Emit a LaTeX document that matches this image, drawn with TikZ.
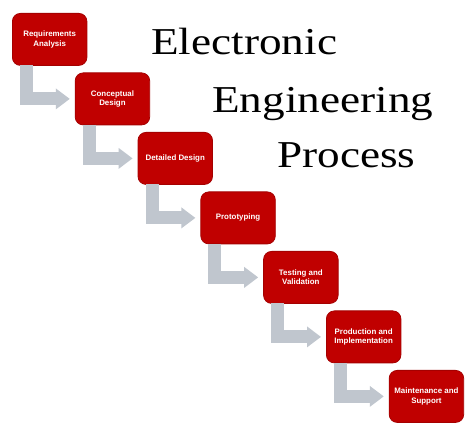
\documentclass[tikz,border=0pt]{standalone}
\usepackage{fontspec}
\setmainfont{Liberation Serif}
\newfontfamily\boxfont{Liberation Sans}
\usetikzlibrary{arrows.meta}
\definecolor{boxred}{RGB}{192,0,0}
\definecolor{boxedge}{RGB}{165,0,0}
\definecolor{arrgray}{RGB}{192,198,206}
\tikzset{
  stage/.style={draw=boxedge, line width=0.8pt, fill=boxred, rounded corners=8pt,
    minimum width=74.5pt, minimum height=52pt, anchor=north west, inner sep=2pt,
    text=white, align=center,
    font=\boxfont\bfseries\fontsize{7.9pt}{9.4pt}\selectfont},
  flow/.style={draw=arrgray, line width=13pt, line join=miter,
    -{Triangle[length=14pt,width=20pt]}},
  title/.style={anchor=base west, inner sep=0pt, xscale=1.19,
    font=\fontsize{38pt}{38pt}\selectfont}
}
\begin{document}
\begin{tikzpicture}[x=1pt,y=-1pt]
\useasboundingbox (0,0) rectangle (474,435);
\fill[white] (0,0) rectangle (474,435);
\node[stage] (s1) at (12,13) {Requirements\\Analysis};
\node[stage] (s2) at (74.8,72.5) {Conceptual\\Design};
\node[stage] (s3) at (137.6,132) {Detailed Design};
\node[stage] (s4) at (200.4,191.5) {Prototyping};
\node[stage] (s5) at (263.2,251) {Testing and\\Validation};
\node[stage] (s6) at (326,310.5) {Production and\\Implementation};
\node[stage] (s7) at (388.8,370) {Maintenance and\\Support};
\foreach \a/\b in {s1/s2,s2/s3,s3/s4,s4/s5,s5/s6,s6/s7}{
  \draw[flow] ([xshift=14.5pt,yshift=0.4pt]\a.south west) |- ([xshift=-5pt]\b.west);
}
\node[title] (t1) at (151,55) {Electronic};
\node[title] (t2) at (212,113) {Engineering};
\node[title] (t3) at (277,168) {Process};
\end{tikzpicture}
\end{document}
